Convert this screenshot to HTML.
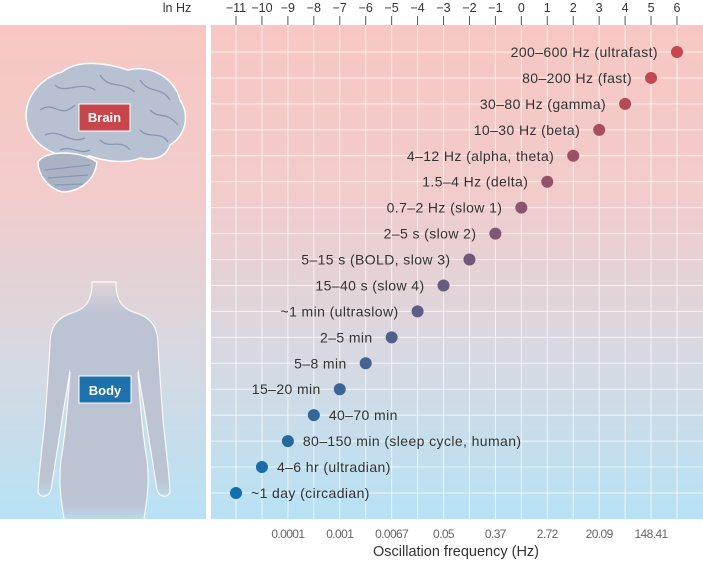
<!DOCTYPE html>
<html><head><meta charset="utf-8"><style>
body{margin:0;background:#fff;}
svg{display:block;font-family:"Liberation Sans",sans-serif;}
</style></head><body>
<svg id="chart" width="703" height="563" viewBox="0 0 703 563">
<defs>
<linearGradient id="bg" x1="0" y1="0" x2="0" y2="1">
<stop offset="0" stop-color="#f8c7c3"/><stop offset="0.35" stop-color="#f1cccb"/><stop offset="0.65" stop-color="#d9d8e0"/><stop offset="1" stop-color="#b7e2f5"/>
</linearGradient>
<linearGradient id="neckfade" x1="0" y1="0" x2="0" y2="1">
<stop offset="0" stop-color="#bcc3d3" stop-opacity="0"/><stop offset="0.15" stop-color="#bcc3d3" stop-opacity="1"/><stop offset="0.92" stop-color="#bcc3d3" stop-opacity="1"/><stop offset="1" stop-color="#bcc3d3" stop-opacity="0.3"/>
</linearGradient>
</defs>
<rect x="0" y="25" width="206" height="494" fill="url(#bg)"/>
<rect x="211" y="25" width="492" height="494" fill="url(#bg)"/>
<g id="grid"></g>
<g>
<path d="M28,128 C20,100 40,78 62,72 C80,58 110,64 128,70 C150,64 175,78 180,100 C190,115 186,135 170,145 C165,160 150,160 140,158 C125,165 100,160 90,156 C70,160 40,155 28,128 Z" fill="#b7c1d2" stroke="#fff" stroke-width="1.5"/>
<path d="M38,162 C45,150 80,150 97,162 C95,180 80,192 62,192 C48,188 38,175 38,162 Z" fill="#aab3c6" stroke="#fff" stroke-width="1.5"/>
<g fill="none" stroke="#8896b2" stroke-width="1.3">
<path d="M40,110 C55,100 60,120 75,105"/><path d="M55,85 C65,95 80,80 95,90"/><path d="M100,75 C110,90 120,80 135,92"/><path d="M140,80 C150,95 160,85 170,100"/><path d="M150,110 C160,120 165,110 178,125"/><path d="M140,130 C150,140 160,130 168,142"/><path d="M100,140 C110,150 120,138 130,150"/><path d="M45,135 C60,128 70,145 85,138"/><path d="M60,150 C70,145 80,155 90,150"/>
<path d="M45,170 L90,165 M48,178 L88,175 M55,185 L82,184"/>
</g>
<rect x="79" y="104" width="51" height="27" fill="#c6464c" stroke="#fff" stroke-width="1"/>
<text x="104.5" y="122" text-anchor="middle" fill="#fff" font-weight="bold" font-size="13">Brain</text>
</g>
<g fill="url(#neckfade)" stroke="#fff" stroke-width="1.2" stroke-opacity="0.85">
<path d="M92,282 C92,298 88,308 72,313 C56,318 50,328 50,345 C49,365 47,390 45,420 C42,450 38,480 38,492 C40,498 48,498 51,490 C54,470 58,445 62,420 C65,400 68,385 70,370 L138,370 C140,385 143,400 146,420 C150,445 154,470 157,490 C160,498 168,498 170,492 C170,480 166,450 163,420 C161,390 159,365 158,345 C158,328 152,318 136,313 C120,308 116,298 116,282 Z"/>
<path d="M70,370 C68,330 68,320 70,320 L138,320 C140,320 140,330 138,370 C140,400 140,425 147,460 C150,490 146,505 144,519 L64,519 C62,505 58,490 61,460 C68,425 68,400 70,370 Z" stroke="none"/>
<path d="M70,372 C68,400 66,430 61,460 C58,485 62,505 64,519" fill="none"/>
<path d="M138,372 C140,400 142,430 147,460 C150,485 146,505 144,519" fill="none"/>
<rect x="79" y="376" width="52" height="27" fill="#1d72ae" stroke="#fff" stroke-width="1" stroke-opacity="1"/>
<text x="105" y="395" text-anchor="middle" fill="#fff" stroke="none" font-weight="bold" font-size="13">Body</text>
</g>
<g id="marks"></g>
<text x="177" y="12" text-anchor="middle" font-size="12.5" fill="#333">ln Hz</text>
<text x="456" y="556" text-anchor="middle" font-size="14.5" fill="#333">Oscillation frequency (Hz)</text>
</svg>
<script>
const lnTicks=[-11,-10,-9,-8,-7,-6,-5,-4,-3,-2,-1,0,1,2,3,4,5,6];
const bottomTickPos=[-9,-7,-5,-3,-1,1,3,5];
const bottomTickLabels=["0.0001","0.001","0.0067","0.05","0.37","2.72","20.09","148.41"];
const bandLabels=["200–600 Hz (ultrafast)","80–200 Hz (fast)","30–80 Hz (gamma)","10–30 Hz (beta)","4–12 Hz (alpha, theta)","1.5–4 Hz (delta)","0.7–2 Hz (slow 1)","2–5 s (slow 2)","5–15 s (BOLD, slow 3)","15–40 s (slow 4)","~1 min (ultraslow)","2–5 min","5–8 min","15–20 min","40–70 min","80–150 min (sleep cycle, human)","4–6 hr (ultradian)","~1 day (circadian)"];
const lnValues=[6,5,4,3,2,1,0,-1,-2,-3,-4,-5,-6,-7,-8,-9,-10,-11];
const NS="http://www.w3.org/2000/svg";
const xS=v=>236+(v+11)*25.94;
const yS=i=>52+i*25.94;
function mk(t,a,p){const e=document.createElementNS(NS,t);for(const k in a)e.setAttribute(k,a[k]);p.appendChild(e);return e;}
const svg=document.getElementById('chart');
const grid=document.getElementById('grid');
const marks=document.getElementById('marks');
lnTicks.forEach(v=>{
 const l=mk('line',{x1:xS(v),x2:xS(v),y1:25,y2:519,stroke:'#fff','stroke-opacity':0.7,'stroke-width':1},grid);
 
 
 const tk=mk('line',{x1:xS(v),x2:xS(v),y1:16,y2:25,stroke:'#555','stroke-width':1},svg);
 
 
 const t=mk('text',{x:xS(v),y:12,'text-anchor':'middle','font-size':12.5,fill:'#333'},svg);
 t.textContent=(v<0?'−'+(-v):String(v));
 
 
});
bandLabels.forEach((s,i)=>{
 const l=mk('line',{x1:211,x2:703,y1:yS(i),y2:yS(i),stroke:'#fff','stroke-opacity':0.7,'stroke-width':1},grid);
 
 
});
const c0=[201,71,77],c1=[16,110,172];
lnValues.forEach((v,i)=>{
 const f=i/(lnValues.length-1);
 const c=c0.map((a,k)=>Math.round(a+(c1[k]-a)*f));
 const d=mk('circle',{cx:xS(v),cy:yS(i),r:6,fill:`rgb(${c})`},marks);
 
 
 const right=v<=-8;
 const t=mk('text',{x:right?xS(v)+15:xS(v)-19,y:yS(i)+5,'text-anchor':right?'start':'end','font-size':14,'letter-spacing':0.4,fill:'#333'},marks);
 t.textContent=bandLabels[i];
 
 
});
bottomTickPos.forEach((v,i)=>{
 const t=mk('text',{x:xS(v),y:538,'text-anchor':'middle','font-size':12,'letter-spacing':-0.6,fill:'#666'},svg);
 t.textContent=bottomTickLabels[i];
 
 
});
</script>
</body></html>
